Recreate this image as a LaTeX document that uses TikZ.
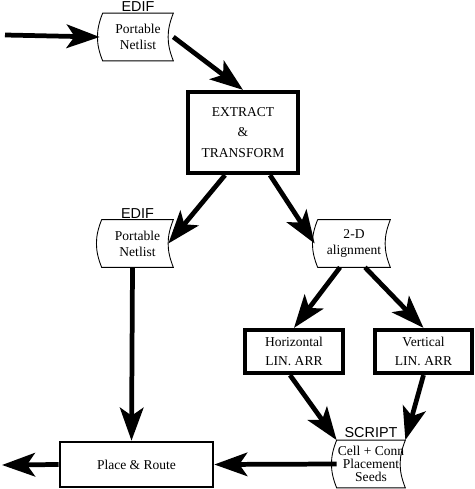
\documentclass[tikz,border=0pt]{standalone}
\usepackage{fontspec}
\setmainfont{Liberation Serif}
\setsansfont{Liberation Sans}
\usetikzlibrary{arrows.meta}
\tikzset{
  freccia/.style={line width=2.7pt,-{Stealth[length=0.66cm,width=0.47cm,inset=0.16cm]}},
  blocco/.style={draw,line width=2.4pt,align=center,inner sep=0pt,font=\fontsize{7.7}{11}\selectfont},
  nastro/.style={align=center,inner sep=0pt,font=\fontsize{7.7}{9}\selectfont},
  etichetta/.style={inner sep=0.5pt,font=\sffamily\fontsize{8.2}{8.2}\selectfont}
}
\newcommand{\bordonastro}[1]{%
  \draw[line width=0.5pt] (#1.north west) -- (#1.north east) to[bend right=22] (#1.south east)
    -- (#1.south west) to[bend left=22] (#1.north west);}
\begin{document}
\begin{tikzpicture}[x=0.02cm,y=-0.02cm]
\useasboundingbox (0,0) rectangle (474,489);
% ingresso e uscita
\coordinate (in) at (5,35);
\coordinate (out) at (2,465);
% nastri
\node[nastro,minimum width=1.4cm,minimum height=0.94cm] (net1) at (138,37) {Portable\\Netlist};
\node[nastro,minimum width=1.42cm,minimum height=0.94cm] (net2) at (137.5,243.5) {Portable\\Netlist};
\node[nastro,minimum width=1.44cm,minimum height=0.94cm] (align) at (354,243.5) {2-D\\alignment};
\node[nastro,minimum width=1.36cm,minimum height=0.94cm,font=\fontsize{7.7}{7.5}\selectfont] (script) at (371,464) {Cell + Conn\\Placement\\Seeds};
\bordonastro{net1}
\bordonastro{net2}
\bordonastro{align}
\bordonastro{script}
\node[etichetta,above=0pt] (edif1) at (net1.north) {EDIF};
\node[etichetta,above=0pt] (edif2) at (net2.north) {EDIF};
\node[etichetta,above=1pt] (scr) at (script.north) {SCRIPT};
% blocchi
\node[blocco,minimum width=2.2cm,minimum height=1.62cm] (extract) at (243,132.5) {EXTRACT\\[0.5pt]\&\\[0.5pt]TRANSFORM};
\node[blocco,minimum width=1.96cm,minimum height=0.86cm] (horiz) at (294,351.5) {Horizontal\\LIN. ARR};
\node[blocco,minimum width=1.94cm,minimum height=0.86cm] (vert) at (423.5,351.5) {Vertical\\LIN. ARR};
\node[blocco,line width=1.5pt,minimum width=3.06cm,minimum height=0.9cm] (place) at (136.5,464.5) {Place \& Route};
% frecce
\draw[freccia] (in) -- ([xshift=-0.06cm]net1.west);
\draw[freccia] (net1.east) -- (extract.north);
\draw[freccia] ([xshift=-0.36cm]extract.south) -- ([xshift=-0.1cm]net2.east);
\draw[freccia] ([xshift=0.54cm]extract.south) -- ([xshift=-0.06cm]align.west);
\draw[freccia] ([xshift=-0.28cm]align.south) -- (horiz.north);
\draw[freccia] ([xshift=0.22cm]align.south) -- (vert.north);
\draw[freccia] ([xshift=-0.08cm]horiz.south) -- (script.north west);
\draw[freccia] (vert.south) -- (script.north east);
\draw[freccia] ([xshift=-0.1cm]net2.south) -- ([xshift=-0.1cm]place.north);
\draw[freccia] (script.west) -- (place.east);
\draw[freccia] (place.west) -- (out);
\end{tikzpicture}
\end{document}
